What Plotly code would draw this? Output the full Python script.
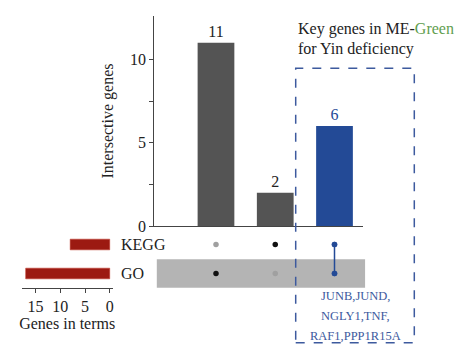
import plotly.graph_objects as go

W, H = 474, 360

# ---- data ----
intersections = ["GO only", "KEGG only", "GO & KEGG"]
inter_counts = [11, 2, 6]
sets = ["GO", "KEGG"]
set_sizes = [17, 8]
membership = {  # which sets each intersection belongs to
    "GO only": ["GO"],
    "KEGG only": ["KEGG"],
    "GO & KEGG": ["GO", "KEGG"],
}
key_genes = ["JUNB,JUND,", "NGLY1,TNF,", "RAF1,PPP1R15A"]

FONT = "Liberation Serif"
GRAY_BAR = "#545454"
BLUE = "#234a96"
RED = "#9c1a12"
TXT_BLUE = "#3d5a9e"


def px(x):
    return x / W


def py(y):
    return 1 - y / H


xi = list(range(len(intersections)))
bar_colors = [GRAY_BAR, GRAY_BAR, BLUE]
text_colors = ["#222222", "#222222", BLUE]

fig = go.Figure()

# main intersection bars
fig.add_trace(go.Bar(
    x=xi, y=inter_counts, width=0.62, marker=dict(color=bar_colors, line=dict(width=0)),
    text=[str(v) for v in inter_counts], textposition="outside",
    textfont=dict(color=text_colors, size=16, family=FONT), cliponaxis=False,
    xaxis="x", yaxis="y", showlegend=False, hoverinfo="skip",
))

# dot matrix
row_of = {s: i for i, s in enumerate(sets)}  # GO=0, KEGG=1
for i, name in enumerate(intersections):
    members = membership[name]
    is_key = len(members) == 2
    for s in sets:
        inset = s in members
        if is_key:
            col = BLUE
        else:
            col = "#111111" if inset else "#a0a0a0"
        fig.add_trace(go.Scatter(
            x=[i], y=[row_of[s]], mode="markers", hoverinfo="skip",
            marker=dict(color=col, size=5.5), xaxis="x2", yaxis="y2", showlegend=False,
        ))
    if is_key:
        fig.add_trace(go.Scatter(
            x=[i] * len(members), y=[row_of[s] for s in members], mode="lines+markers",
            line=dict(color=BLUE, width=1.5), marker=dict(color=BLUE, size=5.5),
            xaxis="x2", yaxis="y2", showlegend=False, hoverinfo="skip",
        ))

# set size bars
fig.add_trace(go.Bar(
    x=set_sizes, y=[row_of[s] for s in sets], orientation="h", width=0.37,
    marker=dict(color=RED, line=dict(color="#c0392b", width=0.5)),
    xaxis="x3", yaxis="y3", showlegend=False, hoverinfo="skip",
))

xdom = [px(154.3), px(363)]
rows_dom = [py(288), py(230)]

fig.update_layout(
    width=W, height=H, margin=dict(l=0, r=0, t=0, b=0, autoexpand=False),
    paper_bgcolor="white", plot_bgcolor="rgba(0,0,0,0)",
    font=dict(family=FONT, size=16, color="#222222"),
    xaxis=dict(domain=xdom, range=[-1.041, 2.481], showline=True, linecolor="#444",
               linewidth=1, showticklabels=False, ticks="", showgrid=False, zeroline=False,
               anchor="y", automargin=False),
    yaxis=dict(domain=[py(226), py(16)], range=[0, 12.6], showline=True, linecolor="#444",
               linewidth=1, ticks="outside", ticklen=4, tickcolor="#444",
               tickvals=[0, 2.5, 5, 7.5, 10], ticktext=["0", "", "5", "", "10"],
               showgrid=False, zeroline=False, anchor="x", automargin=False,
               title=dict(text="Intersective genes", standoff=12, font=dict(size=16)),
               tickfont=dict(size=16)),
    xaxis2=dict(domain=xdom, range=[-1.041, 2.481], visible=False, anchor="y2"),
    yaxis2=dict(domain=rows_dom, range=[-0.5, 1.5], visible=False, anchor="x2"),
    xaxis3=dict(domain=[px(21.7), px(112.7)], range=[17.8, -0.6], showline=True,
                linecolor="#444", linewidth=1, ticks="outside", ticklen=4, tickcolor="#444",
                tickvals=[15, 10, 5, 0], showgrid=False, zeroline=False, anchor="y3",
                automargin=False,
                title=dict(text="Genes in terms", standoff=2, font=dict(size=16)),
                tickfont=dict(size=16)),
    yaxis3=dict(domain=rows_dom, range=[-0.5, 1.5], visible=False, anchor="x3"),
)

# gray band behind GO row
fig.add_shape(type="rect", xref="x2 domain", yref="y2", x0=0.012, x1=1.01, y0=-0.49, y1=0.49,
              fillcolor="#b4b4b4", line=dict(width=0), layer="below")

# set labels
for s in sets:
    fig.add_annotation(x=px(119), xref="paper", y=row_of[s], yref="y2", text=s,
                       showarrow=False, xanchor="left", yanchor="middle", font=dict(size=16))

# dashed key box
fig.add_shape(type="rect", xref="paper", yref="paper", x0=px(295.7), x1=px(414.3),
              y0=py(342.7), y1=py(68.3), line=dict(color=TXT_BLUE, width=1.5, dash="dash"))

# key title
fig.add_annotation(x=px(296), y=py(29), xref="paper", yref="paper", xanchor="left",
                   yanchor="middle",
                   text='Key genes in ME-<span style="color:#5f9e4f">Green</span>',
                   showarrow=False, font=dict(size=16))
fig.add_annotation(x=px(296), y=py(49), xref="paper", yref="paper", xanchor="left",
                   yanchor="middle",
                   text="for Yin deficiency", showarrow=False, font=dict(size=16))

# key genes
for k, g in enumerate(key_genes):
    fig.add_annotation(x=px(355), y=py(296 + 20 * k), xref="paper", yref="paper",
                       xanchor="center", yanchor="middle",
                       text=g, showarrow=False, font=dict(size=12.5, color=TXT_BLUE))

fig.write_html("out.html", config={"displayModeBar": False},
               post_script="document.body.style.margin='0';")
